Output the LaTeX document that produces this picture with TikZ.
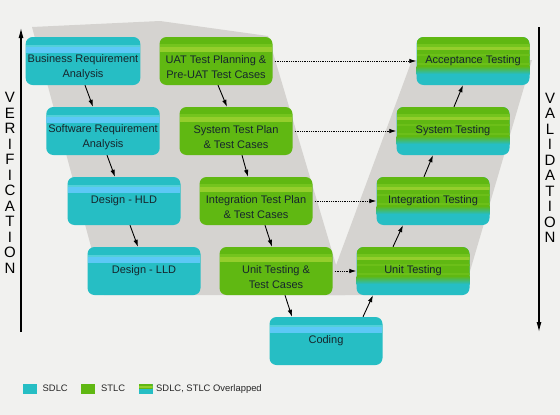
\documentclass[tikz,border=0pt]{standalone}
\usepackage{fontspec}
\setmainfont{Liberation Sans}
\usepackage{tikz}
\usetikzlibrary{shapes,positioning,calc}
\usetikzlibrary{arrows.meta}
\definecolor{bgcol}{RGB}{241,241,239}
\definecolor{vgrey}{RGB}{213,211,208}
\definecolor{txtcol}{RGB}{22,38,45}
\definecolor{sdlccyan}{RGB}{38,190,196}
\definecolor{sdlcline}{RGB}{82,208,216}
\definecolor{sdlcblue}{RGB}{92,200,246}
\definecolor{stlcgreen}{RGB}{96,184,18}
\definecolor{stlcmid}{RGB}{116,196,30}
\definecolor{stlclight}{RGB}{148,206,44}
\tikzstyle{box} = [rectangle, 
rounded corners=7pt, minimum width=113pt, minimum height=48pt, inner sep=2pt, align=center, text=txtcol, font=\fontsize{11}{15}\selectfont]
\tikzstyle{sdlc} = [box, fill=sdlccyan, path picture={
\fill[sdlcline, sharp corners] ([yshift=-8pt]path picture bounding box.north west) rectangle ([yshift=-10pt]path picture bounding box.north east);
\fill[sdlcblue, sharp corners] ([yshift=-10pt]path picture bounding box.north west) rectangle ([yshift=-16pt]path picture bounding box.north east);}]
\tikzstyle{stlc} = [box, fill=stlcgreen, path picture={
\fill[stlcmid, sharp corners] ([yshift=-7pt]path picture bounding box.north west) rectangle ([yshift=-10pt]path picture bounding box.north east);
\fill[stlclight, sharp corners] ([yshift=-10pt]path picture bounding box.north west) rectangle ([yshift=-15pt]path picture bounding box.north east);}]
\tikzstyle{both} = [box, fill=sdlccyan, path picture={
\fill[stlcgreen, sharp corners] (path picture bounding box.north west) rectangle ([yshift=-30pt]path picture bounding box.north east);
\shade[top color=stlcgreen, bottom color=sdlccyan, sharp corners] ([yshift=-29pt]path picture bounding box.north west) rectangle ([yshift=-37pt]path picture bounding box.north east);
\fill[stlcmid, sharp corners] ([yshift=-7pt]path picture bounding box.north west) rectangle ([yshift=-10pt]path picture bounding box.north east);
\fill[stlclight, sharp corners] ([yshift=-10pt]path picture bounding box.north west) rectangle ([yshift=-13pt]path picture bounding box.north east);
\fill[stlcmid!60!stlcgreen, sharp corners] ([yshift=-17pt]path picture bounding box.north west) rectangle ([yshift=-19pt]path picture bounding box.north east);
\fill[stlcmid!60!stlcgreen, sharp corners] ([yshift=-26pt]path picture bounding box.north west) rectangle ([yshift=-28pt]path picture bounding box.north east);}]
\tikzstyle{legbox} = [rectangle, minimum width=14pt, minimum height=10pt, inner sep=0pt]
\tikzstyle{legtext} = [anchor=base west, inner sep=0pt, text=black!85, font=\fontsize{9.4}{11}\selectfont]
\tikzstyle{side} = [align=center, inner sep=0pt, font=\fontsize{15}{15.5}\selectfont]
\tikzstyle{arrow} = [line width=0.9pt,-{Latex[length=7pt,width=4.5pt]}]
\tikzstyle{dotarrow} = [densely dotted, line width=0.8pt,-{Latex[length=7pt,width=4.5pt]}]
\tikzstyle{bigarrow} = [line width=1.1pt,-{Latex[length=10pt,width=5pt]}]

\begin{document}
\begin{tikzpicture}[x=1pt, y=-1pt]
						\path[use as bounding box, fill=bgcol] (0,0) rectangle (560,415);
						\fill[vgrey] (32,27) -- (160,21) -- (268,36) -- (345,295) -- (104,295) -- cycle;
						\fill[vgrey] (412,60) -- (532,60) -- (463,295) -- (325,295) -- cycle;
						\node (bra) at (83,61) [sdlc] {\rule{0pt}{21pt}Business Requirement\\Analysis};
						\node (sra) at (103,131) [sdlc] {\rule{0pt}{21pt}Software Requirement\\Analysis};
						\node (hld) at (124,201) [sdlc] {Design - HLD};
						\node (lld) at (144,271) [sdlc] {Design - LLD};
						\node (uat) at (216,61) [stlc] {\rule{0pt}{21pt}UAT Test Planning \&\\Pre-UAT Test Cases};
						\node (stp) at (236,131) [stlc] {\rule{0pt}{21pt}System Test Plan\\\& Test Cases};
						\node (itp) at (256,201) [stlc] {\rule{0pt}{21pt}Integration Test Plan\\\& Test Cases};
						\node (utc) at (276,271) [stlc] {\rule{0pt}{21pt}Unit Testing \&\\Test Cases};
						\node (cod) at (326,341) [sdlc] {Coding};
						\node (ut) at (413,271) [both] {Unit Testing};
						\node (it) at (433,201) [both] {Integration Testing};
						\node (st) at (453,131) [both] {System Testing};
						\node (acc) at (473,61) [both] {Acceptance Testing};
						\draw[arrow] ([xshift=2pt]bra.south) -- ([xshift=-10pt]sra.north);
						\draw[arrow] ([xshift=4pt]sra.south) -- ([xshift=-9pt]hld.north);
						\draw[arrow] ([xshift=6pt]hld.south) -- ([xshift=-6pt]lld.north);
						\draw[arrow] ([xshift=2pt]uat.south) -- ([xshift=-9pt]stp.north);
						\draw[arrow] ([xshift=6pt]stp.south) -- ([xshift=-8pt]itp.north);
						\draw[arrow] ([xshift=9pt]itp.south) -- ([xshift=-4pt]utc.north);
						\draw[arrow] ([xshift=9pt]utc.south) -- ([xshift=-34pt]cod.north);
						\draw[arrow] ([xshift=37pt]cod.north) -- ([xshift=-40pt]ut.south);
						\draw[arrow] ([xshift=-20pt]ut.north) -- ([xshift=-30pt]it.south);
						\draw[arrow] ([xshift=-9pt]it.north) -- ([xshift=-20pt]st.south);
						\draw[arrow] ([xshift=1pt]st.north) -- ([xshift=-10pt]acc.south);
						\draw[dotarrow, shorten <=2pt] (uat) -- (acc);
						\draw[dotarrow, shorten <=2pt] (stp) -- (st);
						\draw[dotarrow, shorten <=2pt] (itp) -- (it);
						\draw[dotarrow, shorten <=2pt] (utc) -- (ut);
						\coordinate (vbot) at (21,332);
						\coordinate (vtop) at (21,28);
						\coordinate (atop) at (539,27);
						\coordinate (abot) at (539,332);
						\draw[bigarrow] (vbot) -- (vtop);
						\draw[bigarrow] (atop) -- (abot);
						\node[side] (verif) at (10,183) {V\\E\\R\\I\\F\\I\\C\\A\\T\\I\\O\\N};
						\node[side] (valid) at (550,168) {V\\A\\L\\I\\D\\A\\T\\I\\O\\N};
						\node (lsdlc) at (30,389) [legbox, fill=sdlccyan] {};
						\node (lstlc) at (88,389) [legbox, fill=stlcgreen] {};
						\node (lboth) at (145.5,389) [legbox, fill=sdlccyan, path picture={
							\fill[stlcgreen] (path picture bounding box.north west) rectangle ([yshift=-5pt]path picture bounding box.north east);
							\fill[stlclight] ([yshift=-2pt]path picture bounding box.north west) rectangle ([yshift=-3.5pt]path picture bounding box.north east);}] {};
						\node[legtext] (tsdlc) at (42.5,391.5) {SDLC};
						\node[legtext] (tstlc) at (101,391.5) {STLC};
						\node[legtext] (tboth) at (156,391.5) {SDLC, STLC Overlapped};
					\end{tikzpicture}
\end{document}
